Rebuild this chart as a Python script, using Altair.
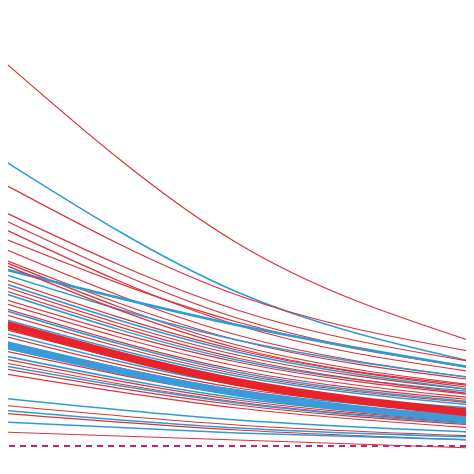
import altair as alt
import pandas as pd

# sample times (start, middle, end)
times = [0.0, 2.37, 4.74]

# curve levels (depth units, larger = lower on chart)
starts = [0.58, 1.58, 1.82, 2.10, 2.18, 2.27, 2.37, 2.47, 2.58, 2.60,
          2.68, 2.73, 2.78, 2.85, 2.92, 2.98, 3.02, 3.07, 3.09, 3.13,
          3.23, 3.32, 3.35, 3.40, 3.44, 3.50, 3.55, 3.58, 3.68, 3.73,
          3.98, 4.05, 4.10, 4.13, 4.22, 4.32,
          2.63, 2.82, 2.89, 3.18, 3.28, 3.47, 3.62, 3.65]
mids = [2.43, 2.92, 2.95, 3.10, 3.18, 3.25, 3.22, 3.35, 3.40, 3.45,
        3.25, 3.40, 3.50, 3.55, 3.60, 3.62, 3.66, 3.70, 3.72, 3.74,
        3.82, 3.85, 3.88, 3.90, 3.93, 3.95, 3.98, 4.00, 4.05, 4.08,
        4.20, 4.25, 4.28, 4.30, 4.33, 4.40,
        3.48, 3.52, 3.58, 3.76, 3.83, 3.94, 4.02, 4.03]
ends = [3.42, 3.62, 3.52, 3.62, 3.68, 3.72, 3.68, 3.78, 3.80, 3.85,
        3.68, 3.78, 3.88, 3.90, 3.92, 3.95, 3.98, 4.00, 4.02, 4.03,
        4.13, 4.08, 4.10, 4.12, 4.20, 4.18, 4.20, 4.22, 4.25, 4.28,
        4.32, 4.36, 4.37, 4.40, 4.40, 4.48,
        3.86, 3.90, 3.94, 4.05, 4.10, 4.16, 4.23, 4.24]
groups = ["r", "b", "r", "r", "r", "r", "r", "r", "r", "r",
          "b", "b", "r", "r", "b", "r", "r", "r", "b", "r",
          "R", "b", "r", "b", "B", "r", "b", "r", "r", "r",
          "b", "r", "b", "r", "b", "r",
          "r", "b", "r", "b", "r", "b", "r", "b"]
medium = [10]  # medium-width blue line index

baseline_level = 4.46

color_map = {"r": "#d9333b", "b": "#2f9bd3", "R": "#e8232a", "B": "#3a9bd8"}
width_map = {"r": 1.2, "b": 1.5, "R": 8.0, "B": 7.0}

rows = []
for i, (s, m, e, g) in enumerate(zip(starts, mids, ends, groups)):
    w = width_map[g]
    if i in medium:
        w = 2.6
    for t, v in zip(times, [s, m, e]):
        rows.append({"t": t, "v": v, "id": i, "col": color_map[g], "w": w})
df = pd.DataFrame(rows)

xs = alt.Scale(domain=[0.08, 4.66], nice=False, zero=False)
ys = alt.Scale(domain=[0.08, 4.66], nice=False, zero=False, reverse=True)

thin = df[df["w"] < 3]
thick_b = df[df["col"] == "#3a9bd8"]
thick_r = df[df["col"] == "#e8232a"]


def layer(d):
    return alt.Chart(d).mark_line(interpolate="monotone", clip=True).encode(
        x=alt.X("t:Q", scale=xs, axis=None),
        y=alt.Y("v:Q", scale=ys, axis=None),
        detail="id:N",
        color=alt.Color("col:N", scale=None),
        strokeWidth=alt.StrokeWidth("w:Q", scale=None),
    )


dash = alt.Chart(pd.DataFrame({"v": [baseline_level]})).mark_rule(
    color="#c4246e", strokeDash=[6, 5], strokeWidth=2, clip=True
).encode(y=alt.Y("v:Q", scale=ys, axis=None))

chart = alt.layer(layer(thin), layer(thick_b), layer(thick_r), dash).properties(
    width=458, height=458, padding=0, autosize=alt.AutoSizeParams(type="none")
).configure_view(stroke=None)

chart.save("out.html", embed_options={"renderer": "svg", "actions": False})
